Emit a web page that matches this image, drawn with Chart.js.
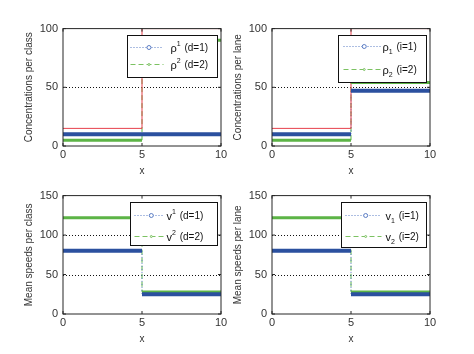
<!DOCTYPE html>
<html>
<head>
<meta charset="utf-8">
<title>Concentrations and mean speeds</title>
<script src="https://cdn.jsdelivr.net/npm/chart.js@4.4.1/dist/chart.umd.min.js"></script>
<style>
  body { margin: 0; background: #fff; width: 474px; height: 354px; position: relative; overflow: hidden; }
  .panel { position: absolute; }
</style>
</head>
<body>

<div class="panel" style="left:0px;top:17px;width:237px;height:160px"><canvas id="concClass"></canvas></div>
<div class="panel" style="left:209px;top:17px;width:237px;height:160px"><canvas id="concLane"></canvas></div>
<div class="panel" style="left:0px;top:184px;width:237px;height:161px"><canvas id="speedClass"></canvas></div>
<div class="panel" style="left:209px;top:184px;width:237px;height:161px"><canvas id="speedLane"></canvas></div>

<script type="text/javascript">

// piecewise constant profiles: value left of x=5, value right of x=5
var xEdges = [0, 5, 10];
var xTicks = [0, 5, 10];
var yTicksConc = [0, 50, 100];
var yTicksSpeed = [0, 50, 100, 150];

var rhoClass1 = [10, 10];
var rhoClass2 = [5, 90];
var rhoTotal = [15, 100];

var rhoLane1 = [10, 47];
var rhoLane2 = [5, 54];

var speedClass1 = [80, 25];
var speedClass2 = [122, 28];

var speedLane1 = [80, 25];
var speedLane2 = [122, 28];

var BLUE = '#2b509f';
var BLUE_LIGHT = '#5a7cc4';
var GREEN = '#5cb446';
var GREEN_LIGHT = '#7cc262';
var RED = '#e6404c';
var FONT = '"Liberation Sans", Arial, sans-serif';

function segments(vals) {
	return [
		{x: xEdges[0], y: vals[0]},
		{x: xEdges[1], y: vals[0]},
		{x: xEdges[1], y: null},
		{x: xEdges[1], y: vals[1]},
		{x: xEdges[2], y: vals[1]}
	];
}

function jump(vals) {
	return [{x: xEdges[1], y: vals[0]}, {x: xEdges[1], y: vals[1]}];
}

function flat(vals, color, width) {
	return { data: segments(vals), borderColor: color, borderWidth: width, pointRadius: 0, spanGaps: false, fill: false, clip: 0 };
}

function link(vals, color, dash) {
	return { data: jump(vals), borderColor: color, borderWidth: 1, borderDash: dash, pointRadius: 0, fill: false, clip: 0 };
}

// frame, dotted grid, inward ticks and the boxed legend
function boxPlugin(cfg) {
	return {
		id: 'box',
		beforeDatasetsDraw: function(chart) {
			var ctx = chart.ctx, a = chart.chartArea, ys = chart.scales.y;
			ctx.save();
			ctx.strokeStyle = '#111';
			ctx.lineWidth = 1;
			ctx.setLineDash([1, 2]);
			cfg.yTicks.forEach(function(v) {
				if (v <= cfg.yMin || v >= cfg.yMax) return;
				var py = Math.round(ys.getPixelForValue(v)) + 0.5;
				ctx.beginPath(); ctx.moveTo(a.left, py); ctx.lineTo(a.right, py); ctx.stroke();
			});
			ctx.restore();
		},
		afterDraw: function(chart) {
			var ctx = chart.ctx, a = chart.chartArea, xs = chart.scales.x, ys = chart.scales.y;
			ctx.save();
			// clear anything that bled past the top edge, then the frame on the exact area
			ctx.clearRect(a.left - 1, a.top - 3, a.right - a.left + 2, 3);
			ctx.strokeStyle = '#262626';
			ctx.lineWidth = 1;
			ctx.strokeRect(a.left, a.top, a.right - a.left, a.bottom - a.top);
			ctx.beginPath();
			xTicks.forEach(function(v) {
				var px = xs.getPixelForValue(v);
				ctx.moveTo(px, a.bottom); ctx.lineTo(px, a.bottom - 3);
				ctx.moveTo(px, a.top); ctx.lineTo(px, a.top + 3);
			});
			cfg.yTicks.forEach(function(v) {
				var py = ys.getPixelForValue(v);
				ctx.moveTo(a.left, py); ctx.lineTo(a.left + 3, py);
				ctx.moveTo(a.right, py); ctx.lineTo(a.right - 3, py);
			});
			ctx.stroke();

			// legend box
			var lg = cfg.legend;
			var bx = Math.round(a.right - 4 - lg.w) + 0.5;
			var by = Math.round(a.top + 6) + 0.5;
			ctx.fillStyle = '#fff';
			ctx.fillRect(bx, by, lg.w, lg.h);
			ctx.strokeStyle = '#111';
			ctx.strokeRect(bx, by, lg.w, lg.h);

			lg.items.forEach(function(it, i) {
				var y = Math.round(by + lg.rows[i]);
				var x0 = bx + lg.lineX[0], x1 = bx + lg.lineX[1];
				ctx.lineWidth = 1;
				ctx.strokeStyle = it.color;
				ctx.setLineDash(it.dash);
				ctx.beginPath(); ctx.moveTo(x0, y + 0.5); ctx.lineTo(x1, y + 0.5); ctx.stroke();
				ctx.setLineDash([]);
				var mx = x0 + (x1 - x0) * 0.56;
				ctx.beginPath(); ctx.arc(mx, y + 0.5, it.marker, 0, 2 * Math.PI);
				ctx.fillStyle = '#fff'; ctx.fill();
				ctx.strokeStyle = it.color; ctx.stroke();

				var tx = bx + lg.textX;
				ctx.fillStyle = '#111';
				ctx.textBaseline = 'middle';
				ctx.font = '11px ' + FONT;
				ctx.fillText(it.sym, tx, y + 2);
				tx += ctx.measureText(it.sym).width;
				ctx.font = '7px ' + FONT;
				ctx.fillText(it.idx, tx, y + (it.sub ? 6 : -3));
				tx += ctx.measureText(it.idx).width;
				ctx.font = '10px ' + FONT;
				ctx.fillText(' (' + it.tag + ')', tx + 1, y + 1);
			});
			ctx.restore();
		}
	};
}

function makeChart(id, cfg) {
	var ctx = document.getElementById(id).getContext('2d');
	return new Chart(ctx, {
		type: 'line',
		data: { datasets: cfg.datasets },
		options: {
			responsive: true,
			maintainAspectRatio: false,
			animation: false,
			layout: { padding: { left: 19, top: 10, right: 16, bottom: 0 } },
			plugins: { legend: { display: false }, tooltip: { enabled: false } },
			elements: { line: { tension: 0 } },
			scales: {
				x: {
					type: 'linear', min: 0, max: 10,
					afterBuildTicks: function(axis) { axis.ticks = xTicks.map(function(v) { return {value: v}; }); },
					grid: { display: false, drawTicks: false }, border: { display: false },
					ticks: { font: { family: FONT, size: 11 }, color: '#333', padding: 2, maxRotation: 0 },
					title: { display: true, text: 'x', font: { family: FONT, size: 10 }, color: '#333', padding: 0 },
					afterFit: function(s) { s.height = 31; }
				},
				y: {
					type: 'linear', min: cfg.yMin, max: cfg.yMax,
					afterBuildTicks: function(axis) { axis.ticks = cfg.yTicks.map(function(v) { return {value: v}; }); },
					grid: { display: false, drawTicks: false }, border: { display: false },
					ticks: { font: { family: FONT, size: 11 }, color: '#333', padding: 5 },
					title: { display: true, text: cfg.yTitle, font: { family: FONT, size: 10 }, color: '#333', padding: { top: 4, bottom: 4 } },
					afterFit: function(s) { s.width = 44; }
				}
			}
		},
		plugins: [boxPlugin(cfg)]
	});
}

var classItems = function(sym) {
	return [
		{ sym: sym, idx: '1', sub: false, tag: 'd=1', color: BLUE_LIGHT, dash: [1, 2], marker: 2 },
		{ sym: sym, idx: '2', sub: false, tag: 'd=2', color: GREEN_LIGHT, dash: [5, 3], marker: 1 }
	];
};
var laneItems = function(sym) {
	return [
		{ sym: sym, idx: '1', sub: true, tag: 'i=1', color: BLUE_LIGHT, dash: [1, 2], marker: 2 },
		{ sym: sym, idx: '2', sub: true, tag: 'i=2', color: GREEN_LIGHT, dash: [5, 3], marker: 1 }
	];
};

makeChart('concClass', {
	yMin: 0, yMax: 100, yTicks: yTicksConc, yTitle: 'Concentrations per class',
	legend: { w: 90, h: 42, rows: [11, 28], lineX: [3, 36], textX: 43, items: classItems('\u03c1') },
	datasets: [
		flat(rhoClass1, BLUE, 4),
		flat(rhoClass2, GREEN, 3),
		link(rhoTotal, RED, []),
		flat(rhoTotal, RED, 1),
		link(rhoClass2, GREEN, [5, 3])
	]
});

makeChart('concLane', {
	yMin: 0, yMax: 100, yTicks: yTicksConc, yTitle: 'Concentrations per lane',
	legend: { w: 88, h: 47, rows: [10, 33], lineX: [5, 42], textX: 44, items: laneItems('\u03c1') },
	datasets: [
		flat(rhoLane1, BLUE, 4),
		flat(rhoLane2, GREEN, 3),
		link(rhoTotal, RED, []),
		flat(rhoTotal, RED, 1),
		link(rhoLane1, BLUE_LIGHT, [1, 2]),
		link(rhoLane2, GREEN, [5, 3])
	]
});

makeChart('speedClass', {
	yMin: 0, yMax: 150, yTicks: yTicksSpeed, yTitle: 'Mean speeds per class',
	legend: { w: 87, h: 43, rows: [12, 33], lineX: [4, 34], textX: 36, items: classItems('v') },
	datasets: [
		flat(speedClass1, BLUE, 4),
		flat(speedClass2, GREEN, 3),
		link(speedClass1, BLUE_LIGHT, [1, 2]),
		link(speedClass2, GREEN, [5, 3])
	]
});

makeChart('speedLane', {
	yMin: 0, yMax: 150, yTicks: yTicksSpeed, yTitle: 'Mean speeds per lane',
	legend: { w: 85, h: 45, rows: [12, 33], lineX: [4, 40], textX: 44, items: laneItems('v') },
	datasets: [
		flat(speedLane1, BLUE, 4),
		flat(speedLane2, GREEN, 3),
		link(speedLane1, BLUE_LIGHT, [1, 2]),
		link(speedLane2, GREEN, [5, 3])
	]
});

</script>
</body>
</html>
